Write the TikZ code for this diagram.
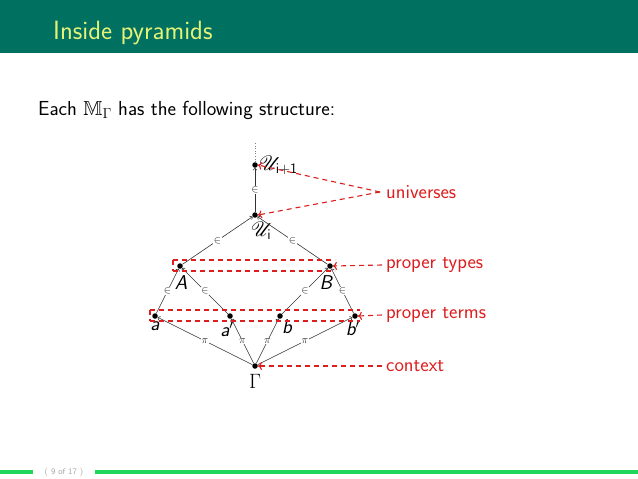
\documentclass[tikz,border=0pt]{standalone}
\usepackage{amssymb}
\usepackage{mathrsfs}
\usetikzlibrary{arrows.meta}
\definecolor{headteal}{RGB}{0,112,96}
\definecolor{titleyellow}{RGB}{228,242,120}
\definecolor{footgreen}{RGB}{30,214,90}
\definecolor{annred}{RGB}{220,30,30}
\renewcommand{\familydefault}{\sfdefault}
\begin{document}
\begin{tikzpicture}[x=1pt,y=-1pt,
  dot/.style={circle,fill=black,inner sep=0pt,minimum size=5.5pt},
  edge/.style={draw=black!80,line width=0.6pt,-{To[length=2.5pt,width=4.5pt]}},
  elab/.style={fill=white,inner sep=0.5pt,text=black!85,font=\fontsize{11}{11}\selectfont},
  nlab/.style={font=\fontsize{20}{22}\selectfont\sffamily\itshape,inner sep=1pt},
  ann/.style={draw=annred,line width=1.1pt,dash pattern=on 5pt off 4pt},
  annarrow/.style={ann,-{To[length=4pt,width=8pt]}},
  anntext/.style={text=annred,anchor=west,font=\fontsize{20}{22}\selectfont\sffamily,inner sep=0pt}]
\useasboundingbox (0,0) rectangle (638,479);
% header
\fill[headteal] (0,0) rectangle (638,53);
\node[anchor=west,text=titleyellow,font=\fontsize{26.5}{30}\selectfont\sffamily,inner sep=0pt] (title) at (53,33) {Inside pyramids};
% body text
\node[anchor=west,font=\fontsize{20.3}{23}\selectfont\sffamily,inner sep=0pt] (intro) at (38,110) {Each $\mathbb{M}_\Gamma$ has the following structure:};
% nodes
\node[dot] (ui1) at (255,165) {};
\node[dot] (ui) at (255,215) {};
\node[dot] (A) at (180,266) {};
\node[dot] (B) at (330,266) {};
\node[dot] (a) at (155,316) {};
\node[dot] (ap) at (230,316) {};
\node[dot] (b) at (280,316) {};
\node[dot] (bp) at (355,316) {};
\node[dot] (G) at (255,366) {};
\coordinate (top) at (255,143);
\draw[gray,dotted,line width=0.6pt] (top) -- (ui1);
% node labels
\node[nlab,anchor=west] (lui1) at (258,165) {$\mathscr{U}_{\mathsf{i+1}}$};
\node[nlab] (lui) at (261,231) {$\mathscr{U}_{\mathsf{i}}$};
\node[nlab] (lA) at (181,283) {A};
\node[nlab] (lB) at (326,283) {B};
\node[nlab] (la) at (155,326) {a};
\node[nlab] (lap) at (227,329) {a$'$};
\node[nlab] (lb) at (287,327) {b};
\node[nlab] (lbp) at (353,328) {b$'$};
\node[font=\fontsize{20}{22}\selectfont,inner sep=1pt] (lG) at (255,381) {$\Gamma$};
% edges
\draw[edge] (ui) -- node[elab] {$\in$} (ui1);
\draw[edge] (A) -- node[elab] {$\in$} (ui);
\draw[edge] (B) -- node[elab] {$\in$} (ui);
\draw[edge] (a) -- node[elab] {$\in$} (A);
\draw[edge] (ap) -- node[elab] {$\in$} (A);
\draw[edge] (b) -- node[elab] {$\in$} (B);
\draw[edge] (bp) -- node[elab] {$\in$} (B);
\draw[edge] (G) -- node[elab] {$\pi$} (a);
\draw[edge] (G) -- node[elab] {$\pi$} (ap);
\draw[edge] (G) -- node[elab] {$\pi$} (b);
\draw[edge] (G) -- node[elab] {$\pi$} (bp);
% annotations
\node[anntext] (univ) at (386,192) {universes};
\node[anntext] (ptypes) at (386,265) {proper types};
\node[anntext] (pterms) at (386,315) {proper terms};
\node[anntext] (ctx) at (386,366) {context};
\coordinate (uv) at (380,192);
\draw[annarrow] (uv) -- (ui1.east);
\draw[annarrow] (uv) -- (ui.east);
\draw[ann] (173,260) -- (335,260);
\draw[ann] (173,271) -- (335,271);
\draw[ann] (173,260) -- (173,271);
\draw[annarrow] (ptypes.west) ++(-4,0) coordinate (pt0) -- (B.east);
\draw[ann] (150,310) -- (360,310);
\draw[ann] (150,321) -- (360,321);
\draw[ann] (150,310) -- (150,321);
\draw[annarrow] (pterms.west) ++(-4,0) coordinate (pm0) -- (bp.east);
\draw[annarrow] (ctx.west) ++(-4,0) coordinate (cx0) -- (G.east);
% footer
\coordinate (f0) at (0,472);
\coordinate (f1) at (33,472);
\coordinate (f2) at (95,472);
\coordinate (f3) at (638,472);
\draw[footgreen,line width=3.5pt] (f0) -- (f1);
\draw[footgreen,line width=3.5pt] (f2) -- (f3);
\node[gray!70,font=\fontsize{8.5}{9}\selectfont\sffamily,inner sep=0pt] (pg) at (64,472) {( 9 of 17 )};
\end{tikzpicture}
\end{document}
